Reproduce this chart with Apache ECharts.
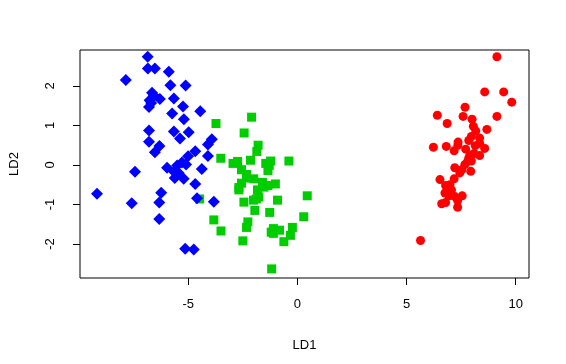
<!DOCTYPE html>
<html><head><meta charset="utf-8">
<script src="https://cdn.jsdelivr.net/npm/echarts@6/dist/echarts.min.js"></script>
<style>html,body{margin:0;padding:0;background:#fff}#c{width:566px;height:364px}</style>
</head><body><div id="c"></div>
<script>
// LD1, LD2 scores per group
const setosaLD1 = [9.14,8.58,9.45,9.82,7.68,6.41,7.59,9.14,8.00,6.86,8.06,8.68,7.97,8.35,7.85,7.36,6.23,6.82,7.18,8.58,8.15,8.09,7.90,8.35,7.85,7.97,7.21,7.67,7.44,7.94,7.18,6.53,6.79,7.06,6.76,7.21,7.55,6.61,6.79,7.34,7.34,5.64,8.17,7.71,7.53,6.99,6.94,7.80,7.35,8.35];
const setosaLD2 = [2.74,1.85,1.85,1.59,1.46,1.26,1.23,1.23,1.16,1.05,0.98,0.90,0.72,0.68,0.62,0.58,0.45,0.47,0.36,0.42,0.49,0.29,0.24,0.24,0.18,0.10,-0.07,0.01,-0.20,-0.16,-0.35,-0.37,-0.52,-0.63,-0.71,-0.80,-0.78,-0.98,-0.95,-0.90,-1.07,-1.91,0.86,0.40,-0.12,-0.50,-0.78,0.09,0.50,0.55];
const versicolorLD1 = [-2.10,-3.73,-2.44,-1.80,-1.86,-3.51,-2.95,-2.74,-2.15,-1.23,-0.39,-1.45,-2.56,-1.35,-2.33,-2.00,-1.60,-2.56,-1.01,-1.35,-2.68,-2.68,-1.53,0.45,-2.45,-2.01,-1.77,-0.91,-1.95,-1.27,-3.83,0.29,-2.27,-2.33,-3.50,-1.10,-0.82,-0.23,-0.32,-1.10,-0.62,-2.50,-1.18,-4.48,-2.33,-1.56,-1.29,-1.83,-1.88,-1.20];
const versicolorLD2 = [1.21,1.05,0.81,0.50,0.34,0.17,0.04,0.09,0.12,0.10,0.10,0.04,-0.12,-0.14,-0.33,-0.35,-0.44,-0.46,-0.48,-0.52,-0.57,-0.63,-0.56,-0.78,-0.94,-0.89,-0.81,-0.89,-1.15,-1.20,-1.39,-1.31,-1.44,-1.58,-1.67,-1.61,-1.65,-1.58,-1.78,-1.73,-1.94,-1.92,-2.63,-0.86,-0.24,-0.52,-0.01,-0.63,-0.86,-1.70];
const virginicaLD1 = [-6.86,-6.85,-6.53,-5.89,-7.86,-5.82,-5.12,-6.66,-6.30,-6.77,-5.66,-6.80,-5.24,-4.45,-5.74,-5.20,-6.80,-5.66,-4.98,-5.38,-6.80,-6.32,-3.92,-4.10,-6.53,-4.68,-5.01,-4.10,-7.44,-5.97,-5.51,-5.10,-5.44,-5.62,-5.21,-4.38,-4.68,-9.18,-6.24,-7.59,-6.33,-4.60,-3.83,-6.33,-5.14,-4.75,-5.29,-5.65,-6.70,-6.56];
const virginicaLD2 = [2.74,2.44,2.44,2.36,2.15,2.02,2.01,1.83,1.67,1.64,1.68,1.47,1.48,1.36,1.30,1.16,0.87,0.85,0.83,0.67,0.59,0.48,0.65,0.52,0.32,0.35,0.22,0.23,-0.17,-0.07,-0.01,0.01,-0.20,-0.33,-0.35,-0.10,-0.48,-0.73,-0.70,-0.97,-0.95,-0.84,-0.93,-1.37,-2.12,-2.14,0.06,-0.17,1.57,1.75];
const xTicks = [-5, 0, 5, 10];
const yTicks = [-2, -1, 0, 1, 2];

const zip = (a, b) => a.map((v, i) => [v, b[i]]);
const font = 'Liberation Sans, Arial, sans-serif';
const chart = echarts.init(document.getElementById('c'), null, {renderer: 'canvas'});
chart.setOption({
  animation: false,
  backgroundColor: '#fff',
  grid: {left: 77, right: 37, top: 50, bottom: 86, show: true, borderColor: '#000', borderWidth: 1, backgroundColor: 'transparent'},
  xAxis: {
    type: 'value', min: -9.96, max: 10.61,
    name: 'LD1', nameLocation: 'middle', nameGap: 61,
    nameTextStyle: {fontFamily: font, fontSize: 13, color: '#000'},
    axisLine: {show: false, onZero: false}, splitLine: {show: false},
    axisTick: {show: true, inside: false, length: 7, customValues: xTicks, lineStyle: {color: '#000', width: 1}},
    axisLabel: {customValues: xTicks, margin: 20, fontFamily: font, fontSize: 13, color: '#000'}
  },
  yAxis: {
    type: 'value', min: -2.86, max: 2.91,
    name: 'LD2', nameLocation: 'middle', nameGap: 59,
    nameTextStyle: {fontFamily: font, fontSize: 13, color: '#000'},
    axisLine: {show: false, onZero: false}, splitLine: {show: false},
    axisTick: {show: true, inside: false, length: 7, customValues: yTicks, lineStyle: {color: '#000', width: 1}},
    axisLabel: {customValues: yTicks, rotate: 90, margin: 23, fontFamily: font, fontSize: 13, color: '#000'}
  },
  series: [
    {type: 'scatter', data: zip(setosaLD1, setosaLD2), symbol: 'circle', symbolSize: 9, itemStyle: {color: '#FF0000', opacity: 1}},
    {type: 'scatter', data: zip(versicolorLD1, versicolorLD2), symbol: 'rect', symbolSize: 9, itemStyle: {color: '#00CD00', opacity: 1}},
    {type: 'scatter', data: zip(virginicaLD1, virginicaLD2), symbol: 'diamond', symbolSize: 12, itemStyle: {color: '#0000FF', opacity: 1}}
  ]
});
</script></body></html>
